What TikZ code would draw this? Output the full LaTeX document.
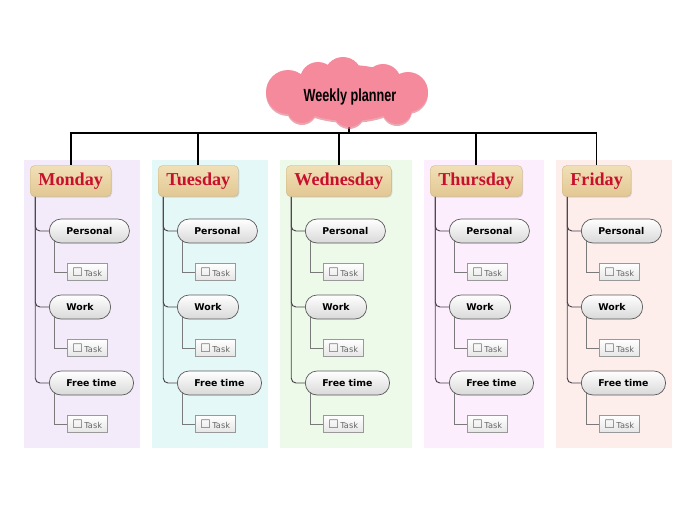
\documentclass[tikz,border=0pt]{standalone}
\usepackage{fontspec}
\setmainfont{DejaVu Sans}
\newfontfamily\dayfont{Liberation Serif}
\newfontfamily\titlefont[FakeStretch=0.72]{Liberation Sans}
\usetikzlibrary{positioning}
\usetikzlibrary{shadows}

\definecolor{cloudpink}{HTML}{F58A9C}
\definecolor{cloudshade}{HTML}{D9707F}
\definecolor{daylight}{HTML}{F1E0B8}
\definecolor{daydark}{HTML}{E2C792}
\definecolor{dayred}{HTML}{C8102E}
\definecolor{trunkgrey}{HTML}{4A404A}
\definecolor{twiggrey}{HTML}{7A7A7A}
\definecolor{monbg}{HTML}{F4EBFA}
\definecolor{tuebg}{HTML}{E5F8F8}
\definecolor{wedbg}{HTML}{EDFAEA}
\definecolor{thubg}{HTML}{FDEEFD}
\definecolor{fribg}{HTML}{FDEEEB}

\pgfdeclarelayer{panels}
\pgfdeclarelayer{links}
\pgfsetlayers{panels,links,main}

\tikzset{
  daybox/.style={rounded corners=4pt, top color=daylight, bottom color=daydark,
    draw=daydark!90!black, line width=0.3pt, minimum height=26.5pt, inner xsep=7pt,
    text=dayred, font=\dayfont\bfseries\fontsize{15.5}{18}\selectfont,
    drop shadow={shadow xshift=0.8pt, shadow yshift=-1pt, opacity=0.25}},
  branch/.style={rounded corners=10pt, draw=black!65, line width=0.6pt,
    top color=white, bottom color=black!15, minimum height=20.5pt, inner xsep=14.5pt,
    font=\bfseries\fontsize{8}{10}\selectfont},
  taskbox/.style={draw=black!40, line width=0.5pt, top color=white, bottom color=black!10,
    minimum height=14.5pt, minimum width=34pt, inner xsep=2pt, text=black!60,
    font=\fontsize{7}{8}\selectfont},
  trunk/.style={draw=trunkgrey, line width=0.8pt, rounded corners=4pt},
  twig/.style={draw=twiggrey, line width=0.7pt},
}
\newcommand{\taskmark}{{\fontsize{10}{8}\selectfont ☐}\,Task}

\begin{document}
\begin{tikzpicture}[x=0.03cm, y=-0.03cm]
  \useasboundingbox (0,0) rectangle (696,520);

  % cloud
  \fill[cloudshade, opacity=0.6] (349,95) ellipse [x radius=60, y radius=28]
    foreach \cx/\cy/\r in {318/82/18, 343/78/19, 383/84/18, 288/94/22,
      408/94/20, 302/110/15, 349/113/16, 397/111/15} { (\cx,\cy) circle [radius=\r] };
  \fill[cloudpink] (349,93) ellipse [x radius=60, y radius=28]
    foreach \cx/\cy/\r in {318/80/18, 343/76/19, 383/82/18, 288/92/22,
      408/92/20, 302/108/15, 349/111/16, 397/109/15} { (\cx,\cy) circle [radius=\r] };
  \node[inner sep=1pt] (plan) at (350,97)
    {\titlefont\bfseries\fontsize{15}{18}\selectfont Weekly planner};
  \coordinate (hub) at (349,133);
  \begin{pgfonlayer}{links}
    \draw[line width=1.5pt] (plan.center) -- (hub);
  \end{pgfonlayer}

  \foreach \n/\x/\w/\day/\col in {1/24/116/Monday/monbg, 2/152/116/Tuesday/tuebg,
      3/280/132/Wednesday/wedbg, 4/424/120/Thursday/thubg, 5/556/116/Friday/fribg} {
    \begin{pgfonlayer}{panels}
      \fill[\col] (\x,160) rectangle ++(\w,288);
    \end{pgfonlayer}

    \node[daybox, anchor=west] (d\n) at (\x+6,181) {\day};
    \node[branch, anchor=west] (p\n) at (\x+25,231) {Personal};
    \node[branch, anchor=west] (w\n) at (\x+25,307) {Work};
    \node[branch, anchor=west] (f\n) at (\x+25,383) {Free time};
    \node[taskbox, below right=17pt and 15.4pt of p\n.south west] (tp\n) {\taskmark};
    \node[taskbox, below right=17pt and 15.4pt of w\n.south west] (tw\n) {\taskmark};
    \node[taskbox, below right=17pt and 15.4pt of f\n.south west] (tf\n) {\taskmark};

    \begin{pgfonlayer}{links}
      \draw[line width=1.5pt] (d\n.north) |- (hub);
      \foreach \b in {p,w,f} {
        \draw[trunk] ([xshift=4.5pt]d\n.south west) |- (\b\n.west);
        \draw[twig] ([xshift=4.5pt, yshift=4pt]\b\n.south west) |- (t\b\n.west);
      }
    \end{pgfonlayer}
  }
\end{tikzpicture}
\end{document}
